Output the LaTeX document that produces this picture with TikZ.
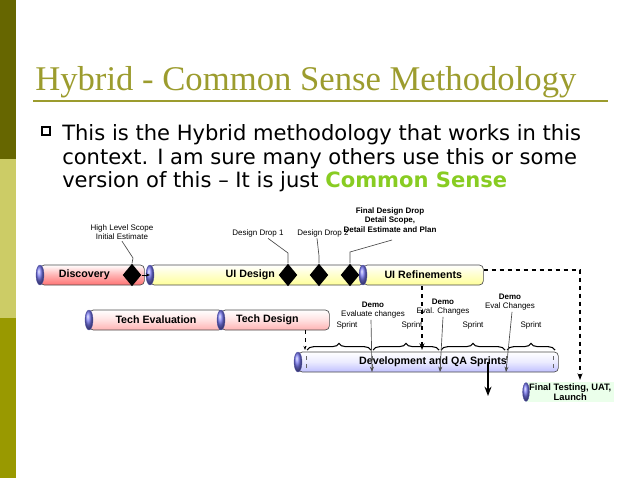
\documentclass[tikz,border=0pt]{standalone}
\usepackage{fontspec}
\setmainfont{Liberation Sans}
\newfontfamily\titlefont{Liberation Serif}
\newfontfamily\bodyfont{DejaVu Sans}
\usetikzlibrary{decorations.pathreplacing,arrows.meta,shapes.geometric}
\definecolor{olive1}{HTML}{666600}
\definecolor{olive2}{HTML}{CCCC66}
\definecolor{olive3}{HTML}{999900}
\definecolor{titlec}{HTML}{9C9C2E}
\definecolor{greenc}{HTML}{88CC22}
\definecolor{endblue}{HTML}{7777EE}
\tikzset{
  cyl/.style={draw=black!70, line width=0.5pt, rounded corners=3pt, minimum height=15pt, inner sep=0pt, font=\fontsize{8}{9}\selectfont\bfseries},
  endcap/.style={draw=endblue!70!black, line width=0.3pt, ball color=endblue, ellipse, minimum width=6pt, minimum height=15pt, inner sep=0pt},
  dia/.style={diamond, fill=black, minimum width=14pt, minimum height=17pt, inner sep=0pt},
  lbl/.style={font=\fontsize{6}{7}\selectfont, align=center, inner sep=1pt},
  blbl/.style={lbl, font=\fontsize{6}{7}\selectfont\bfseries},
  lead/.style={black!70, line width=0.5pt},
  dsh/.style={dashed, line width=1pt, -{Stealth[length=5pt]}},
  brc/.style={decorate, decoration={brace, amplitude=5pt}, line width=0.8pt},
}
\begin{document}
\begin{tikzpicture}[x=0.75pt,y=-0.75pt]
\useasboundingbox (0,0) rectangle (638,478);
\fill[olive1] (0,0) rectangle (16,159);
\fill[olive2] (0,159) rectangle (16,318);
\fill[olive3] (0,318) rectangle (16,478);
\node[anchor=base west, text=titlec, inner sep=0, font=\titlefont\fontsize{26}{30}\selectfont] (title) at (35,90) {Hybrid - Common Sense Methodology};
\draw[titlec, line width=0.8pt] (33,101) -- (608,101);
\node[draw, line width=0.8pt, minimum size=6pt, inner sep=0] (bul) at (46,131) {};
\node[anchor=north west, align=left, inner sep=0, font=\bodyfont\fontsize{15.8}{17.8}\selectfont] (body) at (62,124) {This is the Hybrid methodology that works in this\\context. I am sure many others use this or some\\version of this \textendash{} It is just \textcolor{greenc}{\bfseries Common Sense}};

% top row
\node[cyl, top color=white, bottom color=red!55, middle color=red!30, minimum width=78pt, anchor=west] (disc) at (40,275) {\hspace*{-12pt}Discovery};
\node[endcap] at (disc.west) {};
\node[cyl, top color=white, bottom color=yellow!40, middle color=yellow!20, minimum width=160pt, anchor=west] (uid) at (150,275) {\hspace*{-10pt}UI Design};
\node[endcap] at (uid.west) {};
\node[cyl, top color=white, bottom color=yellow!40, middle color=yellow!20, minimum width=90pt, anchor=west] (uir) at (363,275) {UI Refinements};
\node[endcap] at (uir.west) {};
\node[dia] (d0) at (132,275) {};
\node[dia] (d1) at (288,275) {};
\node[dia] (d2) at (319,275) {};
\node[dia] (d3) at (350,275) {};
\draw[-{Stealth[length=3pt]}, line width=0.5pt] (d0.east) -- (uid.west);

\node[lbl] (l0) at (122,232) {High Level Scope\\Initial Estimate};
\node[lbl] (l1) at (258,233) {Design Drop 1};
\node[lbl] (l2) at (323,233) {Design Drop 2};
\node[blbl] (l3) at (390,220) {Final Design Drop\\Detail Scope,\\Detail Estimate and Plan};
\draw[lead] (l0.south) -- (133,258) -- (d0.north);
\draw[lead] (l1.south) ++(10,0) -- (288,253) -- (d1.north);
\draw[lead] (l2.south) ++(-6,0) -- (319,256) -- (d2.north);
\draw[lead] (392,240) -- (350,252) -- (d3.north);

% second row
\node[cyl, top color=white, bottom color=red!30, middle color=red!12, minimum width=100pt, anchor=west] (tev) at (89,320) {Tech Evaluation};
\node[endcap] at (tev.west) {};
\node[cyl, top color=white, bottom color=red!30, middle color=red!12, minimum width=81pt, anchor=west] (tds) at (221,320) {\hspace*{-12pt}Tech Design};
\node[endcap] at (tds.west) {};

% dev row
\node[cyl, top color=white, bottom color=blue!25, middle color=blue!8, minimum width=195pt, anchor=west] (dev) at (298,362) {};
\node[endcap] at (dev.west) {};
\foreach \x in {306,372,440,506,553} \draw[dashed, black!60, line width=0.4pt] (\x,356) -- (\x,369);
\node[font=\fontsize{8}{9}\selectfont\bfseries] (devt) at (433,362) {Development and QA Sprints};
\foreach \a/\b in {307/371,373/439,441/505,507/555} \draw[brc] (\a,350) -- (\b,350);
\node[lbl] (s1) at (347,325) {Sprint};
\node[lbl] (s2) at (412,325) {Sprint};
\node[lbl] (s3) at (473,325) {Sprint};
\node[lbl] (s4) at (531,325) {Sprint};
\node[lbl] (m1) at (373,310) {\textbf{Demo}\\Evaluate changes};
\node[lbl] (m2) at (443,307) {\textbf{Demo}\\Eval. Changes};
\node[lbl] (m3) at (510,302) {\textbf{Demo}\\Eval Changes};
\coordinate (t1) at (372,372);
\coordinate (t2) at (440,372);
\coordinate (t3) at (506,372);
\draw[lead, -{Stealth[length=4pt]}] (m1.south) ++(-2,0) -- (t1);
\draw[lead, -{Stealth[length=4pt]}] (m2.south) ++(0,0) -- (t2);
\draw[lead, -{Stealth[length=4pt]}] (m3.south) ++(2,0) -- (t3);

% final
\node[fill=green!8, minimum width=66pt, minimum height=15pt, inner sep=0pt, anchor=west, align=center, font=\fontsize{7}{8}\selectfont\bfseries] (fin) at (526,392) {Final Testing, UAT,\\Launch};
\node[endcap, minimum height=14pt, minimum width=5pt] at (fin.west) {};

% connectors
\coordinate (c1) at (305,350);
\draw[dsh, line width=0.6pt, -{Stealth[length=3pt]}] (305,330) -- (c1);
\coordinate (c2) at (422,350);
\draw[dsh] (422,286) -- (c2);
\coordinate (c3) at (580,380);
\draw[dsh] (uir.east |- 270,270) -- (580,270) -- (c3);
\coordinate (c4) at (488,396);
\draw[line width=1.2pt, -{Stealth[length=7pt]}] (488,362) -- (c4);
\end{tikzpicture}
\end{document}
